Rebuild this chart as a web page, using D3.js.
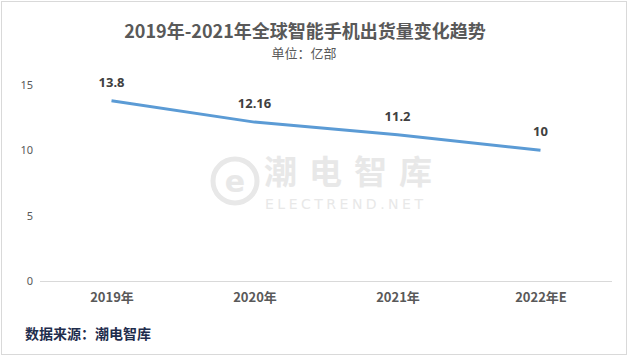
<!DOCTYPE html>
<html>
<head>
<meta charset="utf-8">
<script src="https://cdn.jsdelivr.net/npm/d3@7"></script>
<style>
  body { margin: 0; background: #fff; }
  text { font-family: "Noto Sans CJK SC", "Noto Sans", sans-serif; }
</style>
</head>
<body>
<div class="chart"></div>
<script>
const years = ['2019年', '2020年', '2021年', '2022年E'];
const shipments = [13.8, 12.16, 11.2, 10];
const yTicks = [0, 5, 10, 15];

const W = 629, H = 357;
const margin = ({top: 85, right: 17, bottom: 76, left: 40});

const svg = d3.select('.chart').append('svg')
    .attr('width', W)
    .attr('height', H);

// outer frame
svg.append('rect')
    .attr('x', 1.5).attr('y', 1.5)
    .attr('width', W - 4).attr('height', H - 4)
    .style('fill', 'none')
    .style('stroke', '#d9d9d9');

const xScale = d3.scalePoint()
    .domain(years)
    .range([margin.left, W - margin.right])
    .padding(0.5);

const yScale = d3.scaleLinear()
    .domain([0, 15])
    .range([H - margin.bottom, margin.top]);

// watermark
const wm = svg.append('g').style('fill', '#e8e8e8');
wm.append('circle').attr('cx', 235).attr('cy', 181).attr('r', 22)
    .style('fill', 'none').style('stroke', '#e8e8e8').style('stroke-width', 5);
wm.append('text').attr('x', 235).attr('y', 192).attr('text-anchor', 'middle')
    .style('font-size', '30px').style('font-weight', 'bold').style('font-family', 'DejaVu Sans').text('e');
wm.append('text').attr('x', 264).attr('y', 184)
    .style('font-size', '33px').style('font-weight', 'bold').style('letter-spacing', '12px').text('潮电智库');
wm.append('text').attr('x', 265).attr('y', 209)
    .style('font-size', '14px').style('letter-spacing', '3.5px').style('font-family', 'DejaVu Sans').text('ELECTREND.NET');

// title
svg.append('text')
    .attr('x', 305).attr('y', 38)
    .attr('text-anchor', 'middle')
    .style('font-size', '18px').style('font-weight', 'bold').style('fill', '#595959')
    .text('2019年-2021年全球智能手机出货量变化趋势');

svg.append('text')
    .attr('x', 304).attr('y', 58)
    .attr('text-anchor', 'middle')
    .style('font-size', '13px').style('fill', '#595959')
    .text('单位：亿部');

// y axis labels
const yAxis = d3.axisLeft(yScale).tickValues(yTicks).tickSize(0).tickPadding(0);
const gy = svg.append('g')
    .attr('class', 'axis y-axis')
    .attr('transform', 'translate(33,0)')
    .call(yAxis);
gy.select('.domain').remove();
gy.selectAll('text').style('font-size', '11px').style('fill', '#595959')
    .style('font-family', '"Noto Sans", sans-serif');

// x axis
const xAxis = d3.axisBottom(xScale).tickSize(0).tickPadding(12);
const gx = svg.append('g')
    .attr('class', 'axis x-axis')
    .attr('transform', `translate(0, ${yScale(0)})`)
    .call(xAxis);
gx.select('.domain')
    .attr('d', `M${margin.left},0.5H${W - margin.right}`)
    .style('stroke', '#d9d9d9');
gx.selectAll('text').style('font-size', '13px').style('font-weight', 'bold').style('fill', '#595959');

// line
const data = years.map((y, i) => ({year: y, value: shipments[i]}));
const line = d3.line().x(d => xScale(d.year)).y(d => yScale(d.value));

svg.append('path')
    .datum(data)
    .attr('d', line)
    .style('fill', 'none')
    .style('stroke', '#5b9bd5')
    .style('stroke-width', 3);

svg.selectAll('.label')
    .data(data)
    .enter()
    .append('text')
    .attr('class', 'label')
    .attr('x', d => xScale(d.year))
    .attr('y', d => yScale(d.value) - 14)
    .attr('text-anchor', 'middle')
    .style('font-size', '13px').style('font-weight', 'bold').style('fill', '#404040')
    .style('font-family', '"Noto Sans", sans-serif')
    .text(d => d.value);

// source
svg.append('text')
    .attr('x', 25).attr('y', 339)
    .style('font-size', '14px').style('font-weight', 'bold').style('fill', '#1f2d4d')
    .text('数据来源：潮电智库');
</script>
</body>
</html>
